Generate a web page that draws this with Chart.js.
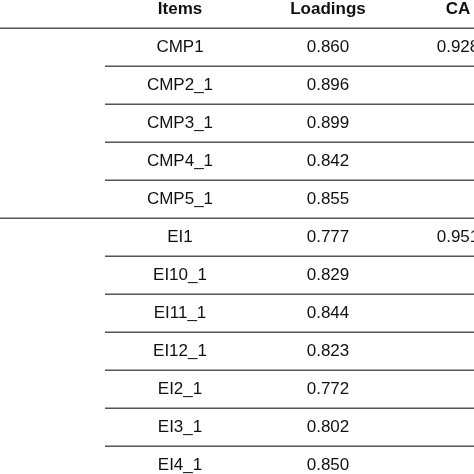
<!DOCTYPE html>
<html>
<head>
<meta charset="utf-8">
<script src="https://cdn.jsdelivr.net/npm/chart.js@4"></script>
<style>
  html, body { margin: 0; padding: 0; background: #fff; }
  #wrap { width: 474px; height: 474px; }
</style>
</head>
<body>
<div id="wrap"><canvas id="myChart" width="474" height="474"></canvas></div>
<script>
// table content
var headers = ["Items", "Loadings", "CA"];
var items = ["CMP1", "CMP2_1", "CMP3_1", "CMP4_1", "CMP5_1",
             "EI1", "EI10_1", "EI11_1", "EI12_1", "EI2_1", "EI3_1", "EI4_1"];
var loadings = [0.860, 0.896, 0.899, 0.842, 0.855,
                0.777, 0.829, 0.844, 0.823, 0.772, 0.802, 0.850];
var ca = ["0.928", "", "", "", "", "0.951", "", "", "", "", "", ""];
var groupStarts = [0, 5];

// column centres on the x scale (0..474)
var colX = [180, 328, 458];

var tablePlugin = {
  id: "tablePlugin",
  afterDraw: function(chart) {
    var ctx = chart.ctx;
    var xs = chart.scales.x, ys = chart.scales.y;
    ctx.save();
    ctx.textAlign = "center";
    ctx.textBaseline = "middle";
    ctx.fillStyle = "#111";

    ctx.font = "bold 17px 'Liberation Sans', Arial, sans-serif";
    headers.forEach(function(h, c) {
      ctx.fillText(h, xs.getPixelForValue(colX[c]), ys.getPixelForValue(-1));
    });

    ctx.font = "17px 'Liberation Sans', Arial, sans-serif";
    for (var i = 0; i < items.length; i++) {
      var y = ys.getPixelForValue(i);
      ctx.fillText(items[i], xs.getPixelForValue(colX[0]), y);
      ctx.fillText(loadings[i].toFixed(3), xs.getPixelForValue(colX[1]), y);
      if (ca[i]) ctx.fillText(ca[i], xs.getPixelForValue(colX[2]), y);
    }

    // row separators
    ctx.strokeStyle = "#555";
    ctx.lineWidth = 1.5;
    for (var k = -1; k < items.length; k++) {
      var full = groupStarts.indexOf(k + 1) >= 0;
      var ly = Math.round(ys.getPixelForValue(k + 0.5)) + 0.25;
      ctx.beginPath();
      ctx.moveTo(xs.getPixelForValue(full ? 0 : 105), ly);
      ctx.lineTo(xs.getPixelForValue(474), ly);
      ctx.stroke();
    }
    ctx.restore();
  }
};

new Chart("myChart", {
  type: "scatter",
  data: {
    datasets: [{
      data: loadings.map(function(v, i) { return {x: colX[1], y: i}; }),
      pointRadius: 0
    }]
  },
  options: {
    responsive: false,
    animation: false,
    layout: {padding: 0},
    plugins: {legend: {display: false}, tooltip: {enabled: false}},
    scales: {
      x: {type: "linear", min: 0, max: 474, display: false},
      y: {type: "linear", reverse: true, min: -47 / 38, max: (474 - 47) / 38, display: false}
    }
  },
  plugins: [tablePlugin]
});
</script>
</body>
</html>
